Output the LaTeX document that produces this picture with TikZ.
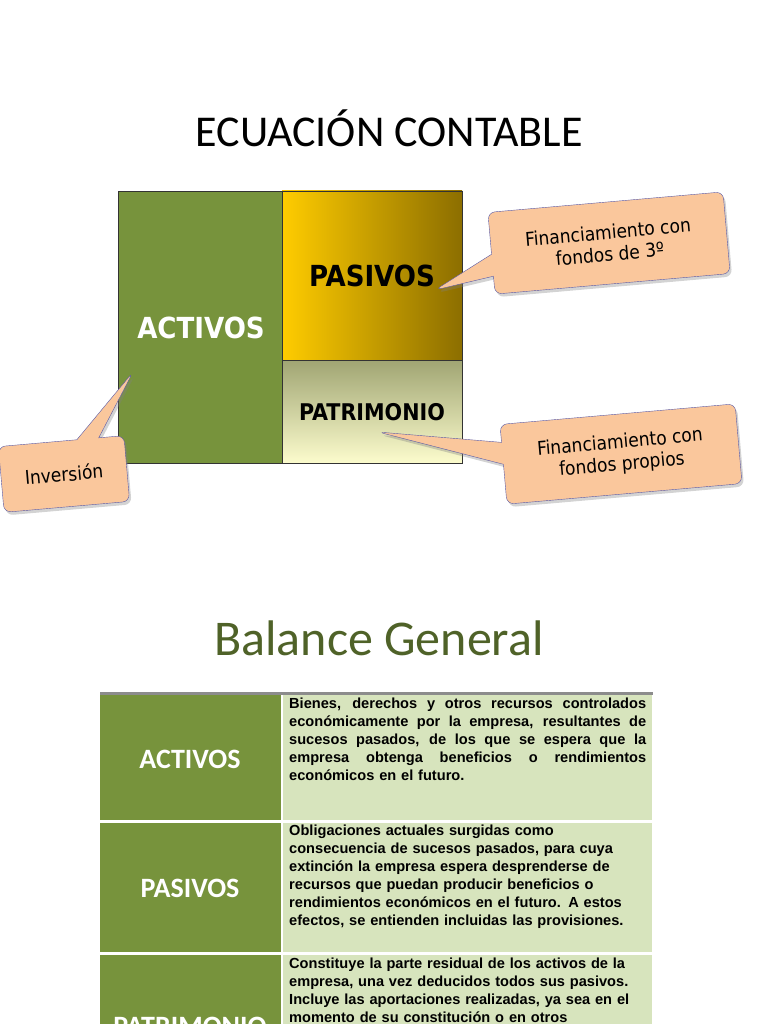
\documentclass[tikz,border=0pt]{standalone}
\usepackage{fontspec}
\setmainfont{Liberation Sans}
\newfontfamily\calfnt{Carlito}
\newfontfamily\tah{DejaVu Sans Condensed}
\usetikzlibrary{shapes.callouts,shadows}
\definecolor{olive}{HTML}{77933C}
\definecolor{cellg}{HTML}{D7E4BD}
\definecolor{callf}{HTML}{FAC79C}
\definecolor{titg}{HTML}{4F6228}
\newcommand\jline[1]{\leavevmode\hbox to 357pt{\spaceskip=0.28em plus 1fil\relax #1}}
\tikzset{
 callbox/.style={rectangle callout,rounded corners=7pt,fill=callf,draw=gray!70!blue,thin,
   drop shadow={opacity=0.35,shadow xshift=2pt,shadow yshift=-3pt},align=center,
   font=\tah\fontsize{19}{22}\selectfont,inner sep=6pt,callout pointer width=22pt},
 bodytxt/.style={anchor=north west,align=left,text width=357pt,
   font=\bfseries\fontsize{14.6}{18}\selectfont,inner sep=0pt},
 headtxt/.style={text=white,font=\calfnt\bfseries\fontsize{28}{30}\selectfont},
}
\begin{document}
\begin{tikzpicture}[x=1pt,y=-1pt]
\useasboundingbox (0,0) rectangle (768,1024);
\clip (0,0) rectangle (768,1024);
\node (title) at (389,128) {\calfnt\fontsize{44}{48}\selectfont ECUACIÓN CONTABLE};
% diagram
\fill[olive] (118,191) rectangle (282,463);
\shade[left color={rgb,255:red,255;green,204;blue,0}, right color={rgb,255:red,140;green,110;blue,0}] (282,191) rectangle (462,360);
\shade[top color={rgb,255:red,160;green,165;blue,115}, bottom color={rgb,255:red,252;green,252;blue,205}] (282,360) rectangle (462,463);
\draw[black!80,thin] (118,191) rectangle (462,463) (282,191) -- (282,463) (282,360) -- (462,360);
\node[text=white,font=\tah\bfseries\fontsize{29}{30}\selectfont] (act) at (201,328) {ACTIVOS};
\node[font=\tah\bfseries\fontsize{29}{30}\selectfont] (pas) at (372,276) {PASIVOS};
\node[font=\tah\bfseries\fontsize{23}{24}\selectfont] (pat) at (372,412) {PATRIMONIO};
\coordinate (p1) at (435,290);
\coordinate (p2) at (378,432);
\coordinate (p3) at (133,372);
\node[callbox,minimum width=236pt,minimum height=82pt,rotate=5,callout absolute pointer={(p1)}] (c1) at (609,243) {Financiamiento con\\fondos de 3º};
\node[callbox,minimum width=236pt,minimum height=80pt,rotate=5,callout absolute pointer={(p2)}] (c2) at (621,454) {Financiamiento con\\fondos propios};
\node[callbox,minimum width=126pt,minimum height=66pt,rotate=5,callout absolute pointer={(p3)}] (c3) at (64,474) {Inversión};
% Balance General
\node[text=titg] (bg) at (379,638) {\calfnt\fontsize{50}{54}\selectfont Balance General};
\fill[black!45] (100,692) rectangle (653,695);
\fill[olive] (100,695) rectangle (281,820);
\fill[cellg] (283,695) rectangle (652,820);
\fill[olive] (100,823) rectangle (281,952);
\fill[cellg] (283,823) rectangle (652,952);
\fill[olive] (100,955) rectangle (281,1030);
\fill[cellg] (283,955) rectangle (652,1030);
\node[headtxt] (h1) at (190,759) {ACTIVOS};
\node[headtxt] (h2) at (190,888) {PASIVOS};
\node[headtxt,anchor=north] (h3) at (190,1014) {PATRIMONIO};
\node[bodytxt] (t1) at (289,698) {\jline{Bienes, derechos y otros recursos controlados}\\\jline{económicamente por la empresa, resultantes de}\\\jline{sucesos pasados, de los que se espera que la}\\\jline{empresa obtenga beneficios o rendimientos}\\económicos en el futuro.};
\node[bodytxt] (t2) at (289,825) {Obligaciones actuales surgidas como\\consecuencia de sucesos pasados, para cuya\\extinción la empresa espera desprenderse de\\recursos que puedan producir beneficios o\\rendimientos económicos en el futuro. A estos\\efectos, se entienden incluidas las provisiones.};
\node[bodytxt] (t3) at (289,958) {Constituye la parte residual de los activos de la\\empresa, una vez deducidos todos sus pasivos.\\Incluye las aportaciones realizadas, ya sea en el\\momento de su constitución o en otros};
\end{tikzpicture}
\end{document}
